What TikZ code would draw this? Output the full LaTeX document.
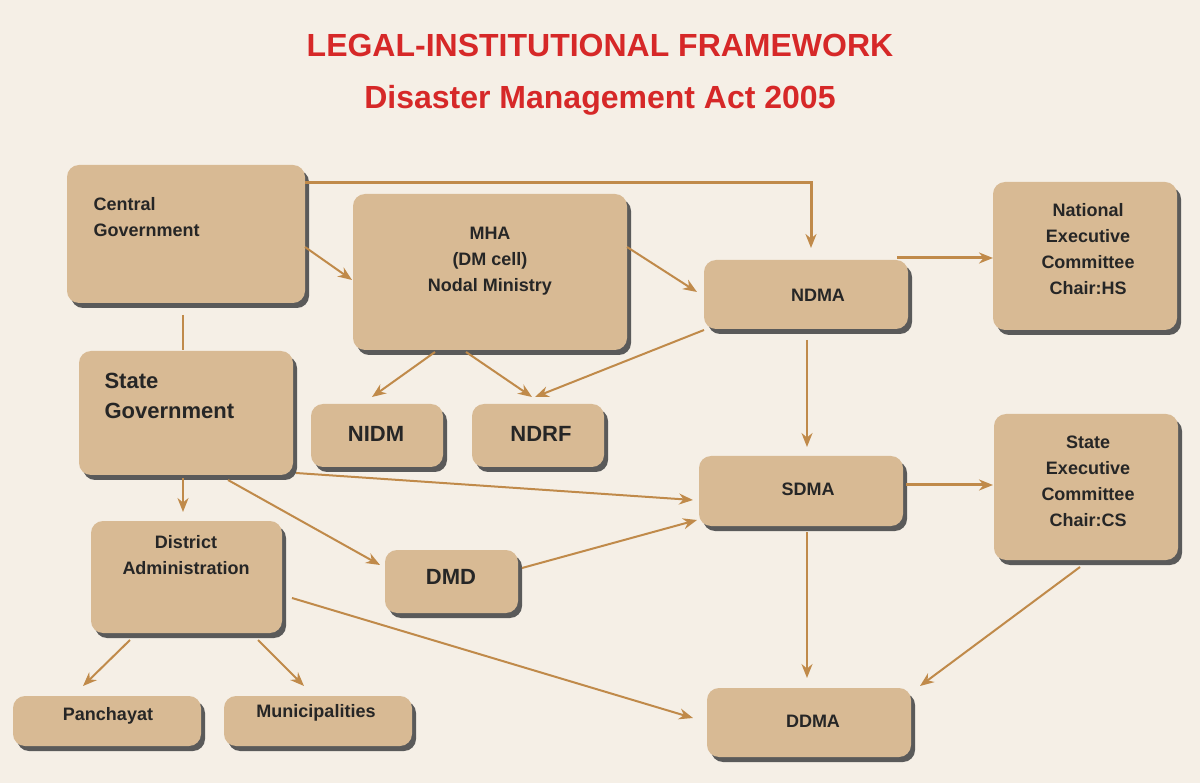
\documentclass[tikz,border=0pt]{standalone}
\usepackage{fontspec}
\setmainfont{Liberation Sans}
\usetikzlibrary{arrows.meta}
\definecolor{bg}{HTML}{F5EFE6}
\definecolor{boxc}{HTML}{D8BA94}
\definecolor{arr}{HTML}{C08A4A}
\definecolor{ttl}{HTML}{D62828}
\definecolor{shd}{HTML}{5A5A5A}
\tikzset{
 bx/.style={fill=boxc,rounded corners=12pt},
 lab/.style={font=\bfseries\fontsize{18}{26}\selectfont,text=black!85,align=center},
 big/.style={font=\bfseries\fontsize{22}{30}\selectfont,text=black!85,align=left},
 ar/.style={draw=arr,line width=2pt,-{Stealth[length=14pt,width=11pt]}},
 arb/.style={draw=arr,line width=3pt,-{Stealth[length=14pt,width=11pt]}},
}
\newcommand{\mybox}[5]{%
 \fill[shd,rounded corners=12pt] (#2+4,#3+5) rectangle (#4+4,#5+5);
 \path[bx] (#2,#3) rectangle (#4,#5);
 \coordinate (#1) at ({(#2+#4)/2},{(#3+#5)/2});}
\begin{document}
\begin{tikzpicture}[x=1pt,y=-1pt]
\fill[bg] (0,0) rectangle (1200,783);
\node[font=\bfseries\fontsize{32}{36}\selectfont,text=ttl] (t1) at (600,45) {LEGAL-INSTITUTIONAL FRAMEWORK};
\node[font=\bfseries\fontsize{32}{36}\selectfont,text=ttl] (t2) at (600,100) {Disaster Management Act 2005};
\mybox{cg}{67}{165}{305}{303}
\mybox{mha}{353}{194}{627}{350}
\mybox{ndma}{704}{260}{908}{329}
\mybox{nec}{993}{182}{1177}{330}
\mybox{sg}{79}{351}{293}{475}
\mybox{nidm}{311}{404}{443}{467}
\mybox{ndrf}{472}{404}{604}{467}
\mybox{sdma}{699}{456}{903}{526}
\mybox{sec}{994}{414}{1178}{560}
\mybox{da}{91}{521}{282}{633}
\mybox{dmd}{385}{550}{518}{613}
\mybox{ddma}{707}{688}{911}{757}
\mybox{pan}{13}{696}{201}{746}
\mybox{mun}{224}{696}{412}{746}
\node[lab,align=left,anchor=west] (cgt) at (90,217) {Central\\Government};
\node[lab] (mhat) at (490,261) {MHA\\(DM cell)\\Nodal Ministry};
\node[lab] (ndmat) at (818,295) {NDMA};
\node[lab] (nect) at (1088,249) {National\\Executive\\Committee\\Chair:HS};
\node[big,anchor=west] (sgt) at (101,396) {State\\Government};
\node[big] (nidmt) at (376,434) {NIDM};
\node[big] (ndrft) at (541,434) {NDRF};
\node[lab] (sdmat) at (808,489) {SDMA};
\node[lab] (sect) at (1088,481) {State\\Executive\\Committee\\Chair:CS};
\node[lab] (dat) at (186,555) {District\\Administration};
\node[big] (dmdt) at (451,577) {DMD};
\node[lab] (ddmat) at (813,721) {DDMA};
\node[lab] (pant) at (108,716) {Panchayat};
\node[lab] (munt) at (316,713) {Municipalities};
% connectors
\coordinate (a1) at (305,183); \coordinate (a2) at (811,183); \coordinate (a3) at (811,248);
\draw[arb] (a1) -- (a2) -- (a3);
\coordinate (b1) at (305,247); \coordinate (b2) at (352,280); \draw[ar] (b1) -- (b2);
\coordinate (c1) at (627,247); \coordinate (c2) at (697,292); \draw[ar] (c1) -- (c2);
\coordinate (d1) at (435,352); \coordinate (d2) at (372,397); \draw[ar] (d1) -- (d2);
\coordinate (e1) at (466,352); \coordinate (e2) at (532,397); \draw[ar] (e1) -- (e2);
\coordinate (f1) at (704,330); \coordinate (f2) at (535,397); \draw[ar] (f1) -- (f2);
\coordinate (g1) at (897,258); \coordinate (g2) at (993,258); \draw[arb] (g1) -- (g2);
\coordinate (h1) at (807,340); \coordinate (h2) at (807,447); \draw[ar] (h1) -- (h2);
\coordinate (i1) at (906,485); \coordinate (i2) at (993,485); \draw[arb] (i1) -- (i2);
\coordinate (j1) at (183,315); \coordinate (j2) at (183,350); \draw[draw=arr,line width=2pt] (j1) -- (j2);
\coordinate (k1) at (183,478); \coordinate (k2) at (183,512); \draw[ar] (k1) -- (k2);
\coordinate (l1) at (296,473); \coordinate (l2) at (693,500); \draw[ar] (l1) -- (l2);
\coordinate (m1) at (228,480); \coordinate (m2) at (380,565); \draw[ar] (m1) -- (m2);
\coordinate (n1) at (522,568); \coordinate (n2) at (697,520); \draw[ar] (n1) -- (n2);
\coordinate (o1) at (292,598); \coordinate (o2) at (693,718); \draw[ar] (o1) -- (o2);
\coordinate (p1) at (807,532); \coordinate (p2) at (807,678); \draw[ar] (p1) -- (p2);
\coordinate (q1) at (1080,567); \coordinate (q2) at (920,686); \draw[ar] (q1) -- (q2);
\coordinate (r1) at (130,640); \coordinate (r2) at (83,686); \draw[ar] (r1) -- (r2);
\coordinate (s1) at (258,640); \coordinate (s2) at (304,686); \draw[ar] (s1) -- (s2);
\end{tikzpicture}
\end{document}
